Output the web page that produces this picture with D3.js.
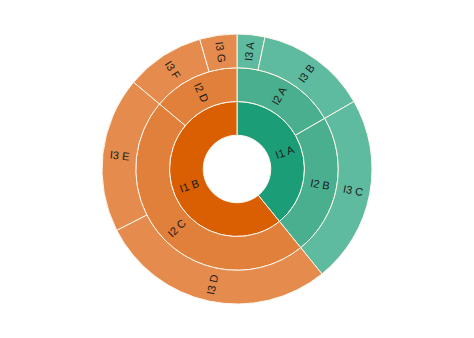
<!DOCTYPE html>
<html lang="en">
<head>
    <meta charset="UTF-8">
    <title>Sunburst</title>
    <script src="https://d3js.org/d3.v7.min.js"></script>
    <style>
        body { margin: 0; background: #fff; }
    </style>
</head>
<body>
    <div id="chart"></div>
    <script>
        // hierarchy: level 1 -> level 2 -> level 3 (leaf values)
        const level1 = ["I1 A", "I1 B"];
        const level2 = ["I2 A", "I2 B", "I2 C", "I2 D"];
        const level2Parent = ["I1 A", "I1 A", "I1 B", "I1 B"];
        const level3 = ["I3 A", "I3 B", "I3 C", "I3 D", "I3 E", "I3 F", "I3 G"];
        const level3Parent = ["I2 A", "I2 A", "I2 B", "I2 C", "I2 C", "I2 D", "I2 D"];
        const level3Values = [12, 48, 81, 102, 67, 34, 16];

        const width = 474, height = 338;
        const cx = 237, cy = 169;

        // build nested tree from the arrays
        const root = { name: "root", children: level1.map(n => ({
            name: n,
            children: level2.filter((m, i) => level2Parent[i] === n).map(m => ({
                name: m,
                children: level3.map((k, j) => ({ name: k, value: level3Values[j], p: level3Parent[j] }))
                    .filter(k => k.p === m)
            }))
        }))};

        const colors = {
            "I1 A": ["#1b9e77", "#4aaf8e", "#5ebb9f"],
            "I1 B": ["#d95f02", "#e0803a", "#e48b4d"]
        };

        const hier = d3.hierarchy(root).sum(d => d.value || 0);
        d3.partition().size([2 * Math.PI, 4])(hier);

        const r = d3.scaleLinear().domain([0, 4]).range([0, 135]);

        const arc = d3.arc()
            .startAngle(d => d.x0)
            .endAngle(d => d.x1)
            .innerRadius(d => r(d.y0))
            .outerRadius(d => r(d.y1));

        const svg = d3.select("#chart").append("svg")
            .attr("width", width)
            .attr("height", height);

        const g = svg.append("g").attr("transform", `translate(${cx},${cy})`);

        const nodes = hier.descendants().filter(d => d.depth > 0);

        g.selectAll("path")
            .data(nodes)
            .enter()
            .append("path")
            .attr("d", arc)
            .attr("fill", d => colors[d.ancestors().find(a => a.depth === 1).data.name][d.depth - 1])
            .attr("stroke", "#fdf6ea")
            .attr("stroke-width", 1);

        // radial labels, flipped on the left half so they are never upside down
        g.selectAll("text")
            .data(nodes)
            .enter()
            .append("text")
            .attr("transform", d => {
                const a = (d.x0 + d.x1) / 2 * 180 / Math.PI;
                const rr = r((d.y0 + d.y1) / 2);
                const rot = a < 180 ? a - 90 : a - 270;
                const x = Math.sin(a * Math.PI / 180) * rr;
                const y = -Math.cos(a * Math.PI / 180) * rr;
                return `translate(${x},${y}) rotate(${rot})`;
            })
            .attr("text-anchor", "middle")
            .attr("dy", "0.35em")
            .style("font-family", "'Liberation Sans', Arial, sans-serif")
            .style("font-size", "11px")
            .style("fill", "#1a1a1a")
            .text(d => d.data.name);
    </script>
</body>
</html>
